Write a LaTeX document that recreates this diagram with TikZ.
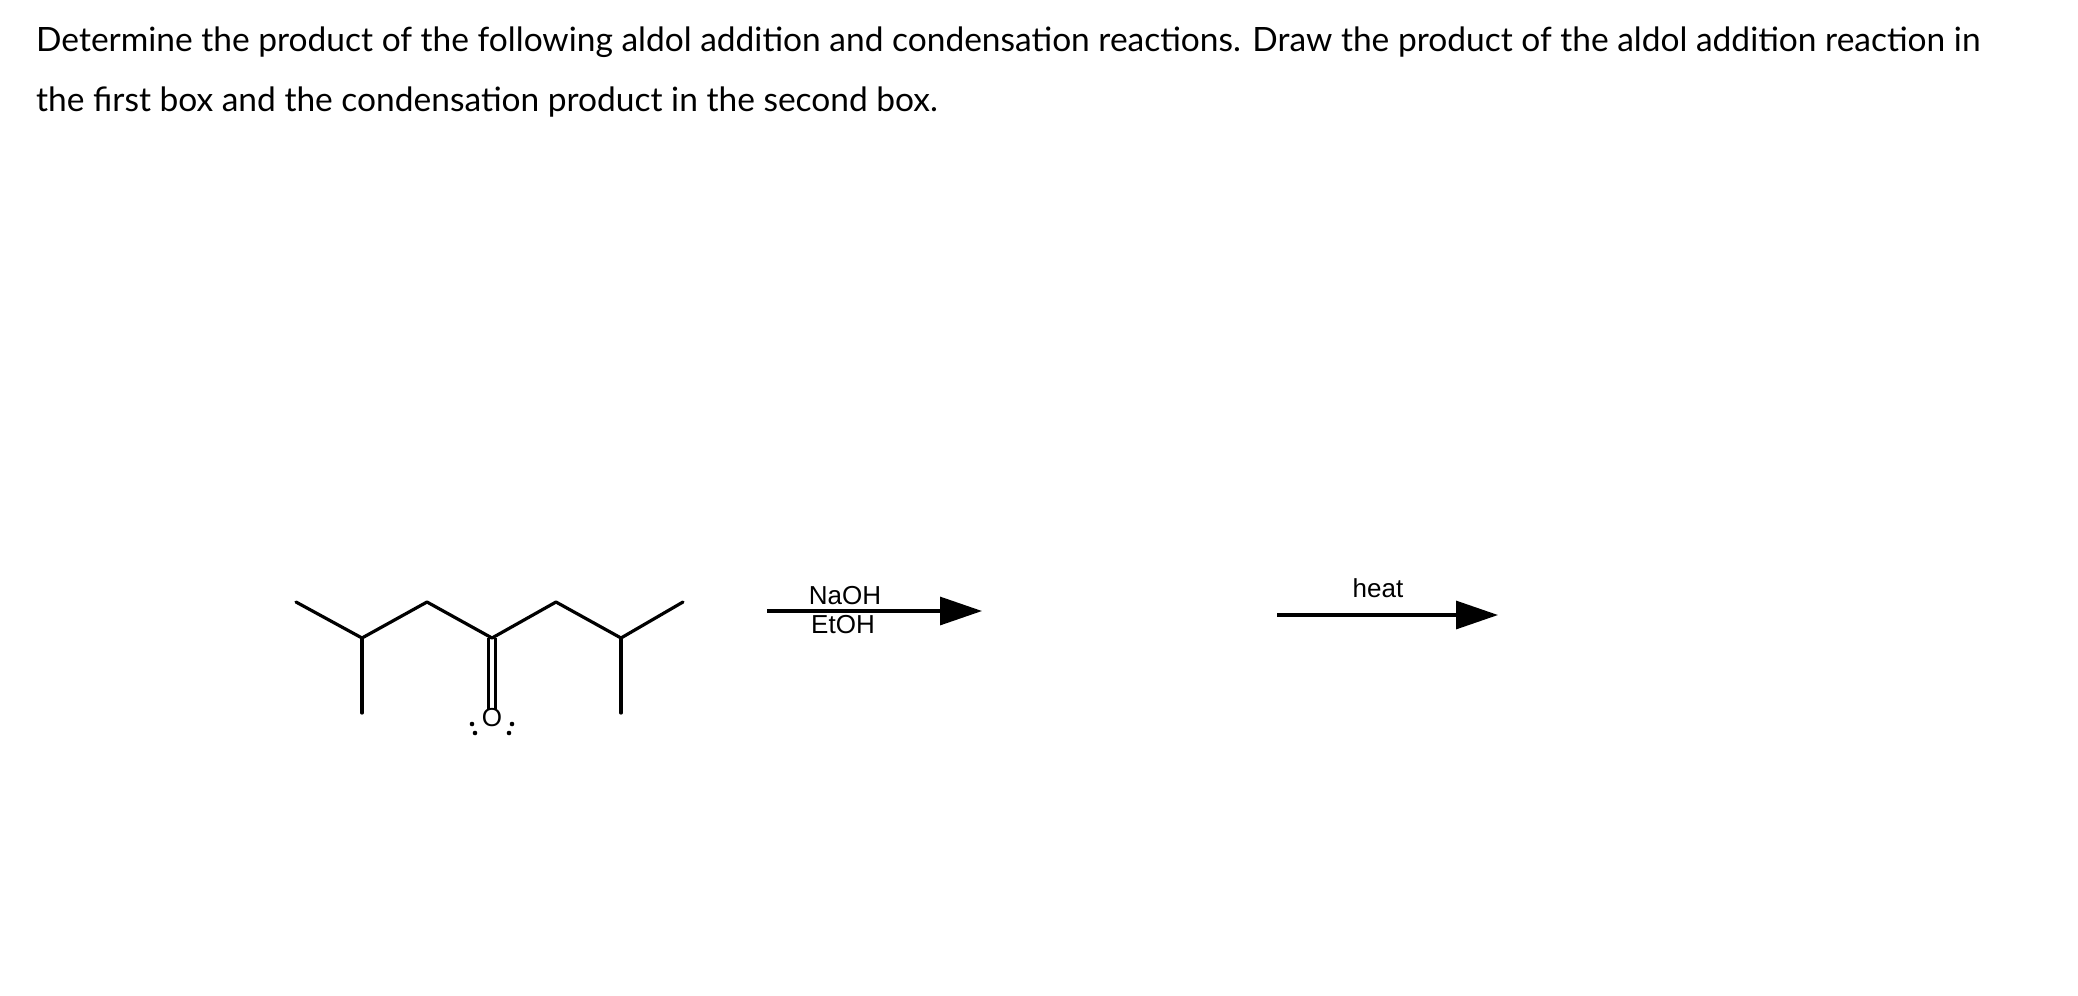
\documentclass[tikz,border=0pt]{standalone}
\usepackage{fontspec}
\setmainfont{Lato}
\newfontfamily\arialf{Liberation Sans}
\usetikzlibrary{arrows.meta}
\begin{document}
\begin{tikzpicture}[x=1pt,y=-1pt,
  bond/.style={line width=3.2pt,line cap=round,line join=round},
  rxn/.style={line width=3.2pt,-{Triangle[length=42pt,width=28pt]}},
  lbl/.style={font=\arialf\fontsize{26}{26}\selectfont,inner sep=0pt},
  hdr/.style={font=\fontsize{33.5}{33.5}\selectfont,anchor=base west,inner sep=0pt}]
\useasboundingbox (0,0) rectangle (2078,996);
\node[hdr] (t1) at (36,51) {Determine the product of the following aldol addition and condensation reactions. Draw the product of the aldol addition reaction in};
\node[hdr] (t2) at (36,111) {the first box and the condensation product in the second box.};
% skeleton
\coordinate (a) at (296,602);
\coordinate (b) at (362,638);
\coordinate (bm) at (362,713);
\coordinate (c) at (427,602);
\coordinate (d) at (492,638);
\coordinate (e) at (556,602);
\coordinate (f) at (621,638);
\coordinate (fm) at (621,713);
\coordinate (g) at (683,602);
\draw[bond] (a) -- (b) -- (c) -- (d) -- (e) -- (f) -- (g);
\draw[bond] (b) -- (bm);
\draw[bond] (f) -- (fm);
\node[lbl] (O) at (492,718) {O};
\draw[line width=2.4pt] ([xshift=-3.5pt]d) -- ([xshift=-3.5pt]O.north);
\draw[line width=2.4pt] ([xshift=3.5pt]d) -- ([xshift=3.5pt]O.north);
\foreach \p in {(472,724),(475,733),(512,724),(509,733)} \fill \p circle (2.3pt);
% arrows
\coordinate (r1s) at (767,611);
\coordinate (r1e) at (982,611);
\draw[rxn] (r1s) -- (r1e);
\node[lbl] (naoh) at (845,596) {NaOH};
\node[lbl] (etoh) at (843,625) {EtOH};
\coordinate (r2s) at (1277,615);
\coordinate (r2e) at (1498,615);
\draw[rxn] (r2s) -- (r2e);
\node[lbl] (heat) at (1378,588) {heat};
\end{tikzpicture}
\end{document}
